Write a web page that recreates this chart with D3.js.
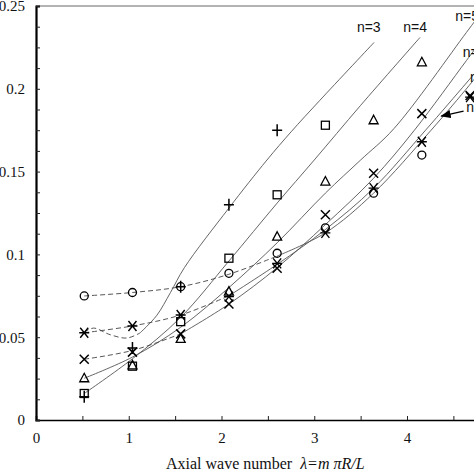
<!DOCTYPE html>
<html>
<head>
<meta charset="utf-8">
<script src="https://cdn.jsdelivr.net/npm/d3@7"></script>
<style>
  body { margin: 0; background: #fff; }
  svg { display: block; }
</style>
</head>
<body>
<div id="chart"></div>
<script>
// Axial wave numbers lambda = m*pi*R/L for m = 1..9
const lambdas = [0.52, 1.04, 1.56, 2.08, 2.6, 3.12, 3.64, 4.16, 4.68];

// Marker series
const plusVals = [0.014, 0.0435, 0.0805, 0.13, 0.175];
const squareVals = [0.016, 0.0325, 0.0594, 0.0977, 0.136, 0.178];
const triangleVals = [0.0252, 0.033, 0.049, 0.0775, 0.1107, 0.144, 0.181, 0.216];
const crossVals = [0.0367, 0.041, 0.052, 0.070, 0.0916, 0.124, 0.149, 0.185, 0.196];
const asteriskVals = [0.0527, 0.0568, 0.0634, 0.0745, 0.0946, 0.113, 0.140, 0.168, 0.195];
const circleVals = [0.0749, 0.077, 0.0805, 0.0886, 0.1007, 0.116, 0.137, 0.160];

// Curves [lambda, value]
const n3Dash = [[0.52, 0.053], [0.62, 0.0555], [0.8, 0.0515], [0.98, 0.0495], [1.12, 0.0525]];
const n3Line = [[1.12, 0.0525], [1.3, 0.063], [1.45, 0.077], [1.6, 0.092], [2.08, 0.128], [2.49, 0.157], [2.75, 0.174], [3.06, 0.193], [3.645, 0.228]];
const n4Line = [[0.52, 0.016], [1.04, 0.037], [1.56, 0.062], [2.08, 0.096], [2.6, 0.131], [3.0, 0.157], [3.5, 0.19], [4.14, 0.231]];
const n5Line = [[0.52, 0.0252], [1.04, 0.038], [1.56, 0.056], [2.08, 0.08], [2.6, 0.107], [3.12, 0.137], [3.5, 0.157], [3.86, 0.176], [4.64, 0.234], [4.8, 0.246]];
const n6Dash = [[0.52, 0.0367], [1.04, 0.042], [1.56, 0.052]];
const n6Line = [[1.56, 0.052], [2.08, 0.07], [2.6, 0.092], [3.12, 0.118], [3.64, 0.146], [4.08, 0.175], [4.64, 0.217], [4.8, 0.229]];
const n7Dash = [[0.52, 0.0527], [1.04, 0.0568], [1.56, 0.0634], [2.08, 0.075]];
const n7Line = [[2.08, 0.075], [2.6, 0.094], [3.12, 0.115], [3.64, 0.14], [4.2, 0.175], [4.64, 0.2035], [4.8, 0.214]];
const n8Dash = [[0.52, 0.0749], [1.04, 0.077], [1.56, 0.0805], [2.08, 0.088], [2.6, 0.099]];
const n8Line = [[2.6, 0.099], [3.12, 0.113], [3.64, 0.137], [4.26, 0.175], [4.67, 0.202], [4.8, 0.211]];

// Curve labels [text, lambda, value]
const curveLabels = [
  ["n=3", 3.46, 0.2345],
  ["n=4", 3.96, 0.2345],
  ["n=5", 4.52, 0.241],
  ["n=6", 4.6, 0.2195],
  ["n=8", 4.68, 0.204],
  ["n=7", 4.64, 0.186]
];
const arrowFrom = [4.61, 0.1865];
const arrowTo = [4.37, 0.1835];

const xTicks = [0, 0.5, 1, 1.5, 2, 2.5, 3, 3.5, 4, 4.5];
const yTicks = d3.range(0, 0.2501, 0.0125);
const xLabels = [0, 1, 2, 3, 4];
const yLabels = [0, 0.05, 0.1, 0.15, 0.2, 0.25];

const W = 474, H = 474;
const margin = { left: 36, top: 6, bottom: 54 };

const svg = d3.select("#chart").append("svg")
  .attr("width", W)
  .attr("height", H);

const x = d3.scaleLinear().domain([0, 5]).range([margin.left, margin.left + 5 * 92.75]);
const y = d3.scaleLinear().domain([0, 0.25]).range([H - margin.bottom, margin.top]);

// top frame line
svg.append("line")
  .attr("x1", x(0)).attr("x2", W)
  .attr("y1", y(0.25)).attr("y2", y(0.25))
  .attr("stroke", "#666").attr("stroke-width", 1);

// axes
const serif = "'Liberation Serif', 'Times New Roman', serif";

const xAxis = svg.append("g")
  .attr("transform", `translate(0,${y(0)})`)
  .call(d3.axisBottom(x).tickValues(xTicks).tickSize(-4).tickPadding(12)
    .tickFormat(d => xLabels.includes(d) ? String(d) : ""));
xAxis.select(".domain").attr("stroke", "#000").attr("stroke-width", 1.6);

const yAxis = svg.append("g")
  .attr("transform", `translate(${x(0)},0)`)
  .call(d3.axisLeft(y).tickValues(yTicks).tickSize(-4).tickPadding(11)
    .tickFormat(d => {
      const r = Math.round(d * 10000) / 10000;
      return yLabels.some(v => Math.abs(v - r) < 1e-6) ? (r === 0 ? "0" : String(r)) : "";
    }));
yAxis.select(".domain").attr("stroke", "#000").attr("stroke-width", 2.2);

svg.selectAll(".tick line").attr("stroke", "#222").attr("stroke-width", 1);
svg.selectAll(".tick text")
  .style("font-family", serif)
  .style("font-size", "15px")
  .attr("fill", "#111");

// x title
const title = svg.append("text")
  .attr("x", 166)
  .attr("y", 469)
  .style("font-family", serif)
  .style("font-size", "16px")
  .style("white-space", "pre")
  .attr("fill", "#111");
title.append("tspan").text("Axial wave number  ");
title.append("tspan").style("font-style", "italic").text("λ=m πR/L");

// curves
const plot = svg.append("g");
const line = d3.line()
  .x(d => x(d[0]))
  .y(d => y(d[1]))
  .curve(d3.curveCatmullRom.alpha(0.5));

[n3Line, n4Line, n5Line, n6Line, n7Line, n8Line].forEach(c => {
  plot.append("path")
    .attr("d", line(c))
    .attr("fill", "none")
    .attr("stroke", "#555")
    .attr("stroke-width", 0.9);
});

[n3Dash, n6Dash, n7Dash, n8Dash].forEach(c => {
  plot.append("path")
    .attr("d", line(c))
    .attr("fill", "none")
    .attr("stroke", "#444")
    .attr("stroke-width", 0.9)
    .attr("stroke-dasharray", "5,3");
});

// markers
const mk = svg.append("g")
  .attr("fill", "none")
  .attr("stroke", "#000")
  .attr("stroke-width", 1.3);

function pts(vals) {
  return vals.map((v, i) => [x(lambdas[i]), y(v)]);
}

pts(circleVals).forEach(([px, py]) => {
  mk.append("circle").attr("cx", px).attr("cy", py).attr("r", 4);
});

pts(squareVals).forEach(([px, py]) => {
  mk.append("rect").attr("x", px - 4).attr("y", py - 4).attr("width", 8).attr("height", 8);
});

pts(triangleVals).forEach(([px, py]) => {
  mk.append("path").attr("d", `M${px},${py - 5}L${px + 4.5},${py + 3.5}L${px - 4.5},${py + 3.5}Z`);
});

pts(plusVals).forEach(([px, py]) => {
  mk.append("path").attr("d", `M${px - 5},${py}H${px + 5}M${px},${py - 6}V${py + 6}`).attr("stroke-width", 1.5);
});

pts(crossVals).forEach(([px, py]) => {
  mk.append("path").attr("d", `M${px - 4.5},${py - 4.5}L${px + 4.5},${py + 4.5}M${px + 4.5},${py - 4.5}L${px - 4.5},${py + 4.5}`).attr("stroke-width", 1.5);
});

pts(asteriskVals).forEach(([px, py]) => {
  mk.append("path").attr("d",
    `M${px - 4},${py - 5}L${px + 4},${py + 5}M${px + 4},${py - 5}L${px - 4},${py + 5}M${px - 5},${py}H${px + 5}`)
    .attr("stroke-width", 1.4);
});

// curve labels
svg.selectAll(".nlab")
  .data(curveLabels)
  .enter()
  .append("text")
  .attr("class", "nlab")
  .attr("x", d => x(d[1]))
  .attr("y", d => y(d[2]))
  .style("font-family", "'Liberation Sans', Arial, sans-serif")
  .style("font-size", "14px")
  .attr("fill", "#111")
  .text(d => d[0]);

// arrow
svg.append("defs").append("marker")
  .attr("id", "ah")
  .attr("viewBox", "0 0 10 10")
  .attr("refX", 9).attr("refY", 5)
  .attr("markerWidth", 8).attr("markerHeight", 8)
  .attr("orient", "auto")
  .append("path").attr("d", "M0,1L10,5L0,9Z").attr("fill", "#000");

svg.append("line")
  .attr("x1", x(arrowFrom[0])).attr("y1", y(arrowFrom[1]))
  .attr("x2", x(arrowTo[0])).attr("y2", y(arrowTo[1]))
  .attr("stroke", "#000").attr("stroke-width", 1.3)
  .attr("marker-end", "url(#ah)");
</script>
</body>
</html>
